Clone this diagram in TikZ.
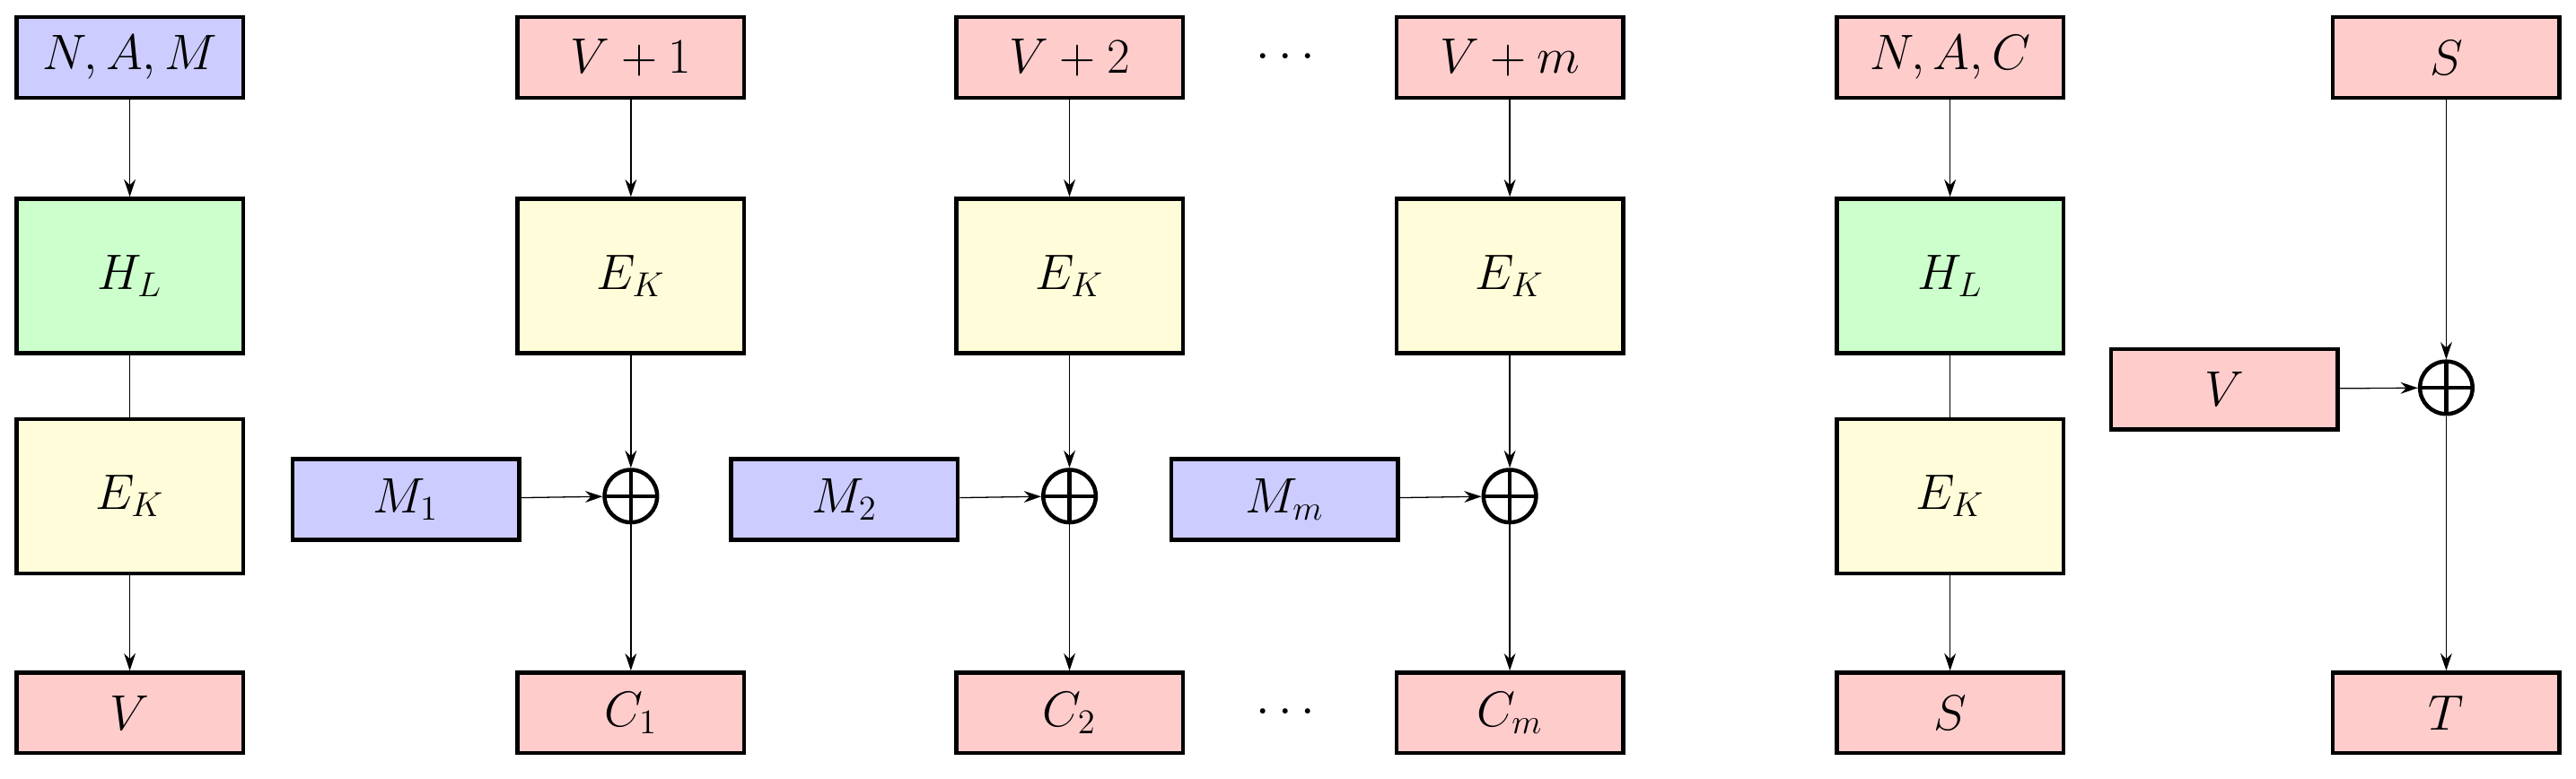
\documentclass[tikz,border=0pt]{standalone}
\usepackage{amsmath}
\usetikzlibrary{arrows.meta}
\definecolor{cblue}{RGB}{204,204,255}
\definecolor{cpink}{RGB}{255,204,204}
\definecolor{cgreen}{RGB}{204,255,204}
\definecolor{cyellow}{RGB}{255,253,217}
\begin{document}
\begin{tikzpicture}[x=0.02cm,y=-0.02cm,
  every node/.style={font=\fontsize{17}{20}\selectfont},
  box/.style={draw,line width=1.4pt,minimum width=2.76cm,minimum height=0.98cm,inner sep=0pt},
  big/.style={box,minimum height=1.88cm},
  xor/.style={draw,circle,line width=1.4pt,minimum size=0.64cm,inner sep=0pt,
    path picture={\draw[line width=1.4pt] (path picture bounding box.north) -- (path picture bounding box.south)
      (path picture bounding box.west) -- (path picture bounding box.east);}},
  arr/.style={-{Stealth[length=6pt,width=4pt]},thin}]
\useasboundingbox (0,0) rectangle (1568,474);
% column 1
\node[box,fill=cblue] (t1) at (79,35) {$N,A,M$};
\node[big,fill=cgreen] (h1) at (79,168) {$H_L$};
\node[big,fill=cyellow] (e1) at (79,302) {$E_K$};
\node[box,fill=cpink] (b1) at (79,434) {$V$};
\draw[arr] (t1) -- (h1);
\draw[thin] (h1) -- (e1);
\draw[arr] (e1) -- (b1);
% counter columns
\foreach \i/\x/\t/\m/\c in {2/384/V+1/M_1/C_1, 3/651/V+2/M_2/C_2, 4/919/V+m/M_m/C_m}{
  \node[box,fill=cpink] (t\i) at (\x,35) {$\t$};
  \node[big,fill=cyellow] (e\i) at (\x,168) {$E_K$};
  \node[xor] (x\i) at (\x,302) {};
  \node[box,fill=cblue] (m\i) at (\x-137,304) {$\m$};
  \node[box,fill=cpink] (b\i) at (\x,434) {$\c$};
  \draw[arr] (t\i) -- (e\i);
  \draw[arr] (e\i) -- (x\i);
  \draw[arr] (m\i) -- (x\i);
  \draw[arr] (x\i) -- (b\i);
}
\node (d1) at (785,35) {$\cdots$};
\node (d2) at (785,434) {$\cdots$};
% column 5
\node[box,fill=cpink] (t5) at (1187,35) {$N,A,C$};
\node[big,fill=cgreen] (h5) at (1187,168) {$H_L$};
\node[big,fill=cyellow] (e5) at (1187,302) {$E_K$};
\node[box,fill=cpink] (b5) at (1187,434) {$S$};
\draw[arr] (t5) -- (h5);
\draw[thin] (h5) -- (e5);
\draw[arr] (e5) -- (b5);
% column 6
\node[box,fill=cpink] (t6) at (1489,35) {$S$};
\node[xor] (x6) at (1489,236) {};
\node[box,fill=cpink] (v6) at (1354,237) {$V$};
\node[box,fill=cpink] (b6) at (1489,434) {$T$};
\draw[arr] (t6) -- (x6);
\draw[arr] (v6) -- (x6);
\draw[arr] (x6) -- (b6);
\end{tikzpicture}
\end{document}
